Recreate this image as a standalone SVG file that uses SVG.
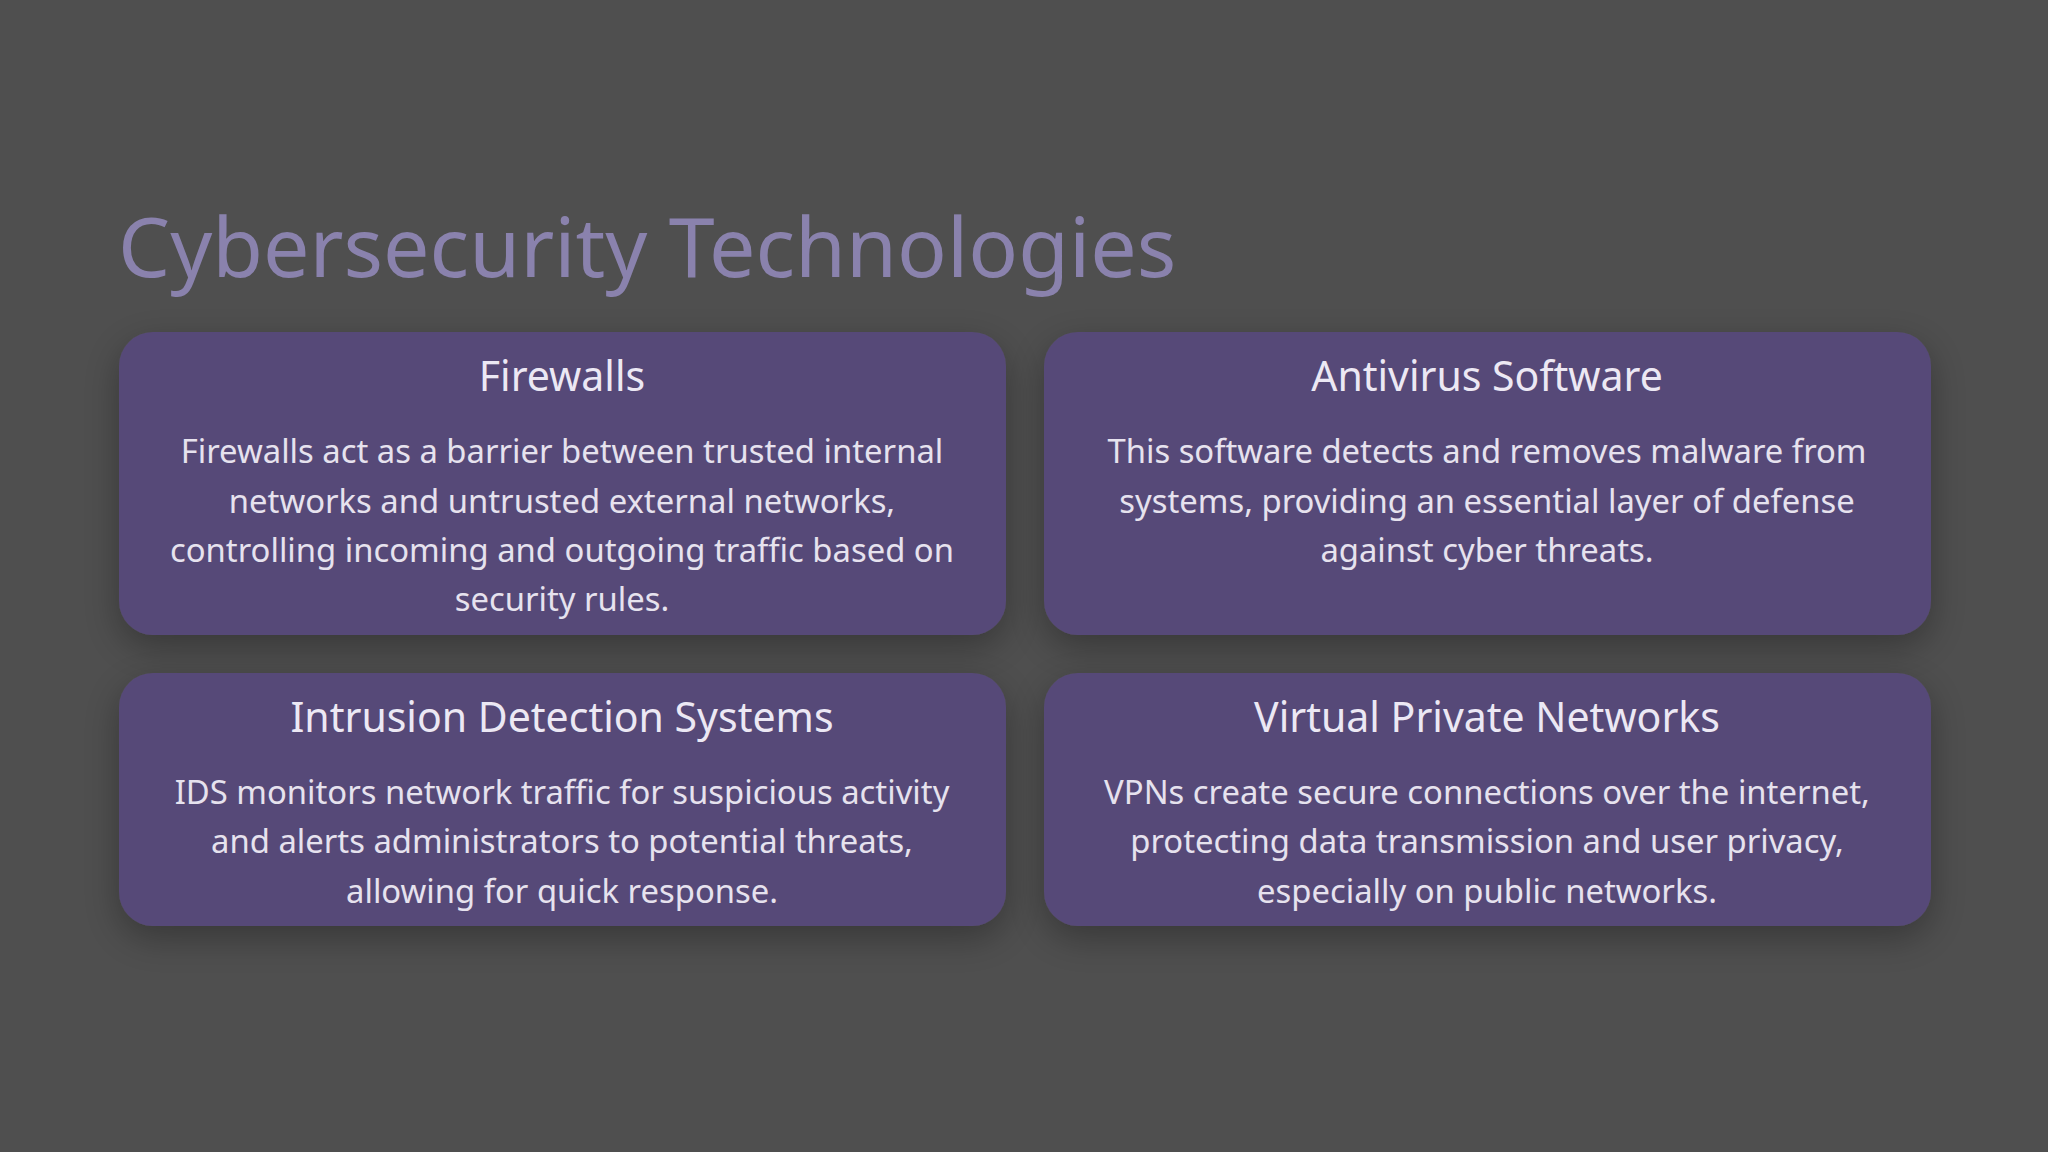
<svg xmlns="http://www.w3.org/2000/svg" width="2048" height="1152" viewBox="0 0 2048 1152">
<style>
.card{fill:#574a78;filter:url(#sh)}
.h{font-family:"Noto Sans",sans-serif;font-size:41px;fill:#ece8f4;text-anchor:middle}
.b{font-family:"Noto Sans",sans-serif;font-size:32.8px;fill:#e6e2ee;text-anchor:middle}
</style>
<defs><filter id="sh" x="-10%" y="-20%" width="120%" height="150%"><feDropShadow dx="0" dy="12" stdDeviation="18" flood-color="#000" flood-opacity="0.3"/></filter></defs>
<rect width="2048" height="1152" fill="#4f4f4f"/>
<text x="118" y="277" font-family="Noto Sans, sans-serif" font-size="82.5" fill="#8a82ad">Cybersecurity Technologies</text>
<g id="firewalls"><rect class="card" x="119" y="332" width="887" height="303" rx="34"/>
<text class="h" x="562" y="391">Firewalls</text>
<text class="b" x="562" y="463">Firewalls act as a barrier between trusted internal</text>
<text class="b" x="562" y="513">networks and untrusted external networks,</text>
<text class="b" x="562" y="562">controlling incoming and outgoing traffic based on</text>
<text class="b" x="562" y="611">security rules.</text></g>
<g id="antivirus"><rect class="card" x="1044" y="332" width="887" height="303" rx="34"/>
<text class="h" x="1487" y="391">Antivirus Software</text>
<text class="b" x="1487" y="463">This software detects and removes malware from</text>
<text class="b" x="1487" y="513">systems, providing an essential layer of defense</text>
<text class="b" x="1487" y="562">against cyber threats.</text></g>
<g id="ids"><rect class="card" x="119" y="673" width="887" height="253" rx="34"/>
<text class="h" x="562" y="732">Intrusion Detection Systems</text>
<text class="b" x="562" y="804">IDS monitors network traffic for suspicious activity</text>
<text class="b" x="562" y="853">and alerts administrators to potential threats,</text>
<text class="b" x="562" y="903">allowing for quick response.</text></g>
<g id="vpn"><rect class="card" x="1044" y="673" width="887" height="253" rx="34"/>
<text class="h" x="1487" y="732">Virtual Private Networks</text>
<text class="b" x="1487" y="804">VPNs create secure connections over the internet,</text>
<text class="b" x="1487" y="853">protecting data transmission and user privacy,</text>
<text class="b" x="1487" y="903">especially on public networks.</text></g>
<g id="connectors"/>
</svg>
